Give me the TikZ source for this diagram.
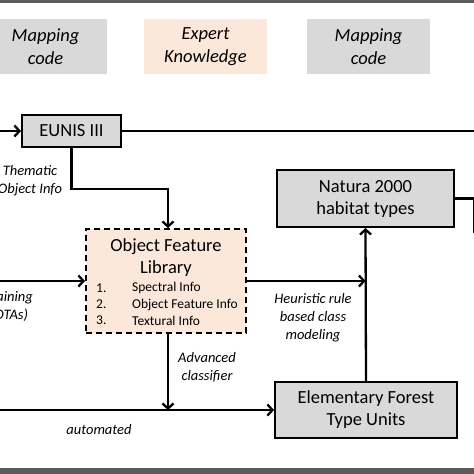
\documentclass[tikz,border=0pt]{standalone}
\usepackage{fontspec}
\setmainfont{Carlito}
\usepackage{tikz}
\usetikzlibrary{calc}
\usetikzlibrary{arrows.meta}

\definecolor{boxgray}{HTML}{D9D9D9}
\definecolor{peach}{HTML}{FCE8DA}
\definecolor{bandgray}{HTML}{5C5C5C}

\tikzset{
  flowbox/.style={draw, line width=2pt, fill=boxgray, align=center, inner sep=0pt,
    font=\fontsize{18.5}{22}\selectfont},
  keybox/.style={fill=boxgray, minimum width=123pt, minimum height=55pt, align=center,
    inner sep=0pt, font=\itshape\fontsize{18.5}{23}\selectfont},
  note/.style={align=center, inner sep=0pt, font=\itshape\fontsize{14.5}{18}\selectfont},
  listtext/.style={anchor=west, inner sep=0pt, font=\fontsize{13.5}{16}\selectfont},
  flow/.style={line width=2.3pt, -{Straight Barb[length=5pt, width=11pt, line width=2.3pt]}},
  plain/.style={line width=2.3pt}
}

\begin{document}
\begin{tikzpicture}[x=1pt, y=-1pt]

            \useasboundingbox (0,0) rectangle (474,474);

            % frame bands
            \fill[bandgray] (0,0) rectangle (474,3);
            \fill[bandgray] (0,468) rectangle (474,474);

            % key
            \node[keybox] (mapA) at (45.5,46.5) {Mapping\\code};
            \node[keybox, fill=peach] (expert) at (205.5,46.5) {Expert\\Knowledge};
            \node[keybox] (mapB) at (368.5,46.5) {Mapping\\code};

            % boxes
            \node[flowbox, minimum width=99pt, minimum height=32pt] (eunis) at (71.5,131) {EUNIS III};
            \node[flowbox, fill=peach, dash pattern=on 6pt off 4pt, minimum width=160pt, minimum height=104pt] (ofl) at (166,281) {};
            \node[flowbox, minimum width=177pt, minimum height=57pt] (natura) at (365.5,198.5) {Natura 2000\\habitat types};
            \node[flowbox, minimum width=182pt, minimum height=56pt] (eft) at (366,410) {Elementary Forest\\Type Units};

            % library contents
            \node[align=center, inner sep=0pt, font=\fontsize{18.5}{22}\selectfont] (ofltitle) at (166,258) {Object Feature\\Library};
            \node[listtext] (num1) at (96,288) {1.};
            \node[listtext] (num2) at (96,304.5) {2.};
            \node[listtext] (num3) at (96,320.5) {3.};
            \node[listtext] (item1) at (132,288) {Spectral Info};
            \node[listtext] (item2) at (132,304.5) {Object Feature Info};
            \node[listtext] (item3) at (132,320.5) {Textural Info};

            % loose ends
            \coordinate (inEunis) at (-5,131);
            \coordinate (outEunis) at (480,131);
            \coordinate (inTrain) at (-5,281);
            \coordinate (inAuto) at (-5,410);
            \coordinate (oflTop) at ($(ofl.north)+(2,0)$);
            \coordinate (oflBottom) at ($(ofl.south)+(2,0)$);
            \coordinate (classJoin) at (oflBottom |- eft.west);

            % connectors
            \draw[flow] (inEunis) -- (eunis.west);
            \draw[plain] (eunis.east) -- (outEunis);
            \draw[flow] (eunis.south) -- ++(0,41) -| (oflTop);
            \draw[flow] (inTrain) -- (ofl.west);
            \draw[flow] (ofl.east) -- (ofl.east -| natura.south);
            \draw[flow] (eft.north) -- (natura.south);
            \draw[flow] (oflBottom) -- (classJoin);
            \draw[flow] (inAuto) -- (eft.west);
            \draw[plain] (natura.east) -- ++(19,0) -- ++(0,34);

            % labels
            \node[note] (thematic) at (30,180.5) {Thematic\\Object Info};
            \node[note] (training) at (9,306.5) {Training\\(OTAs)};
            \node[note] (heuristic) at (313,318) {Heuristic rule\\based class\\modeling};
            \node[note] (advanced) at (207,367) {Advanced\\classifier};
            \node[note] (automated) at (99,430) {automated};

          \end{tikzpicture}
\end{document}
